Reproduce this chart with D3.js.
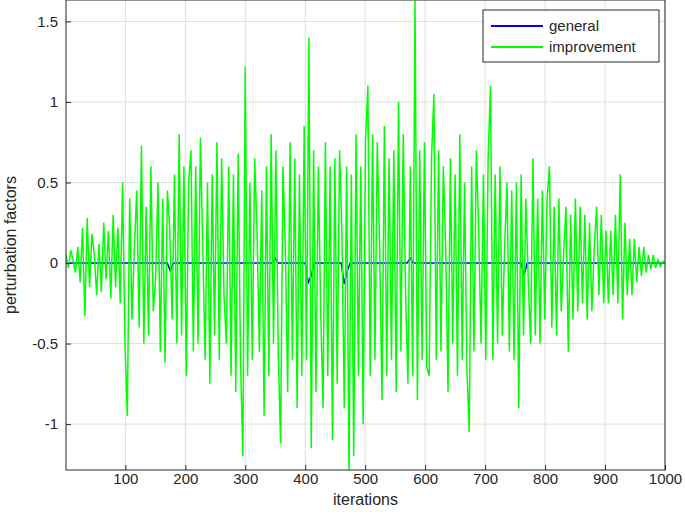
<!DOCTYPE html>
<html><head><meta charset="utf-8">
<script src="https://cdn.jsdelivr.net/npm/d3@7"></script>
<style>body{margin:0;background:#fff}text{font-family:"Liberation Sans",Arial,sans-serif}</style>
</head><body><svg width="685" height="526"></svg>
<script>
// green series, sampled every 4 iterations
var improvement = [
0.05,-0.03,0.08,0.02,-0.06,0.1,-0.12,0.22,-0.33,0.28,-0.15,0.18,0.05,-0.2,0.12,-0.18,0.25,-0.1,0.2,-0.22,0.3,-0.15,0.22,-0.25,0.5,-0.5,
-0.95,0.4,-0.35,0.1,0.45,-0.4,0.73,-0.5,0.35,-0.45,0.6,-0.3,-0.1,0.5,-0.55,0.4,-0.62,0.45,0.2,-0.35,0.55,-0.5,0.8,-0.45,0.6,
-0.7,0.5,0.7,-0.55,0.6,-0.5,0.78,0.1,-0.6,0.5,-0.75,0.55,-0.45,0.75,-0.6,0.65,-0.2,-0.5,0.6,-0.7,0.55,-0.8,0.68,-0.6,-1.2,1.22,
-0.7,0.5,-0.6,0.65,0.2,-0.55,0.45,-0.95,0.6,-0.7,0.8,-0.5,0.7,-0.55,-1.12,0.6,0.1,-0.8,0.75,-0.6,0.65,-0.9,0.55,-0.7,0.85,
-0.6,1.4,-1.15,0.7,-0.8,0.6,-0.3,-0.9,0.75,-0.7,0.6,-1.1,0.65,-0.75,0.7,0.2,-0.9,0.6,-1.3,0.55,-1.2,0.8,-0.7,0.6,-1.0,0.75,
1.1,-0.7,0.8,-0.6,0.75,0.1,-0.85,0.85,-0.7,0.65,-0.6,0.7,-0.8,1.0,-0.55,0.8,-0.2,-0.75,0.6,-0.7,1.63,-0.85,0.7,-0.6,0.75,-0.65,
-0.7,0.65,1.05,-0.6,0.7,-0.55,0.6,0.1,-0.8,0.65,-0.5,0.55,-0.7,0.8,-0.6,0.5,-0.65,-1.05,0.6,-0.55,0.7,0.2,-0.5,0.55,-0.6,0.65,
1.1,-0.6,0.55,-0.5,0.6,-0.45,0.1,0.5,-0.55,0.45,-0.6,0.5,-0.9,0.55,-0.45,0.4,-0.1,-0.5,0.65,-0.45,0.4,-0.5,0.45,-0.35,0.4,
0.6,-0.4,0.35,-0.45,0.4,-0.3,0.05,0.35,-0.55,0.3,-0.35,0.4,-0.3,0.35,-0.25,0.3,-0.35,0.25,-0.3,0.1,0.35,-0.2,0.3,-0.25,0.2,
-0.25,0.2,-0.2,0.3,-0.25,0.55,-0.35,0.25,-0.2,0.15,-0.2,0.15,-0.12,0.1,-0.08,0.1,-0.06,0.05,-0.04,0.05,-0.03,0.02,-0.02,0.01,0
];
var improvementX = d3.range(improvement.length).map(function(i) { return 1 + i * 999 / (improvement.length - 1); });

var generalX = [1,170,175,180,345,350,355,400,405,410,415,460,465,470,475,570,575,580,760,765,770,1000];
var generalY = [0,0,-0.05,0,0,0.03,0,0,-0.12,-0.08,0,0,-0.13,-0.05,0,0,0.03,0,0,-0.08,0,0];

var xTicks = [100,200,300,400,500,600,700,800,900,1000];
var yTicks = [-1,-0.5,0,0.5,1,1.5];

var svg = d3.select('svg');
var L = 66, R = 665, T = 0, B = 470;
var x = d3.scaleLinear().domain([1, 1000]).range([L, R]);
var y = d3.scaleLinear().domain([-1.285, 1.633]).range([B, T]);

// grid
svg.append('g').selectAll('line').data(xTicks).enter().append('line')
  .attr('x1', x).attr('x2', x).attr('y1', T).attr('y2', B)
  .attr('stroke', '#dfdfdf');
svg.append('g').selectAll('line').data(yTicks).enter().append('line')
  .attr('x1', L).attr('x2', R).attr('y1', y).attr('y2', y)
  .attr('stroke', '#dfdfdf');

svg.append('clipPath').attr('id', 'c').append('rect')
  .attr('x', L).attr('y', T).attr('width', R - L).attr('height', B - T);

var line = d3.line().x(function(d) { return x(d[0]); }).y(function(d) { return y(d[1]); });
var plot = svg.append('g').attr('clip-path', 'url(#c)');
plot.append('path').datum(d3.zip(generalX, generalY)).attr('d', line)
  .attr('fill', 'none').attr('stroke', '#0000ff').attr('stroke-width', 1.5);
plot.append('path').datum(d3.zip(improvementX, improvement)).attr('d', line)
  .attr('fill', 'none').attr('stroke', '#00ff00').attr('stroke-width', 1.5);

// axes
function style(g) {
  g.select('.domain').remove();
  g.selectAll('text').attr('font-size', 15).attr('fill', '#262626');
  g.selectAll('line').attr('stroke', '#262626');
}
svg.append('g').attr('transform', 'translate(0,' + B + ')')
  .call(d3.axisBottom(x).tickValues(xTicks).tickFormat(String).tickSizeInner(-5).tickSizeOuter(0).tickPadding(3))
  .call(style);
svg.append('g').attr('transform', 'translate(' + L + ',0)')
  .call(d3.axisLeft(y).tickValues(yTicks).tickFormat(String).tickSizeInner(-5).tickSizeOuter(0).tickPadding(8))
  .call(style);
svg.append('rect').attr('x', L).attr('y', T).attr('width', R - L).attr('height', B - T)
  .attr('fill', 'none').attr('stroke', '#262626');

svg.append('text').attr('x', (L + R) / 2).attr('y', 505).attr('text-anchor', 'middle')
  .attr('font-size', 16).attr('fill', '#262626').text('iterations');
svg.append('text').attr('transform', 'translate(16,' + (B / 2 + 10) + ') rotate(-90)')
  .attr('text-anchor', 'middle').attr('font-size', 16).attr('fill', '#262626').text('perturbation factors');

// legend
var lg = svg.append('g').attr('transform', 'translate(483,10)');
lg.append('rect').attr('width', 176).attr('height', 52).attr('fill', '#fff').attr('stroke', '#262626');
var names = ['general', 'improvement'], cols = ['#0000ff', '#00ff00'];
names.forEach(function(n, i) {
  lg.append('line').attr('x1', 8).attr('x2', 60).attr('y1', 16 + i * 21).attr('y2', 16 + i * 21)
    .attr('stroke', cols[i]).attr('stroke-width', 2);
  lg.append('text').attr('x', 66).attr('y', 21 + i * 21).attr('font-size', 15).attr('fill', '#262626').text(n);
});
</script></body></html>
